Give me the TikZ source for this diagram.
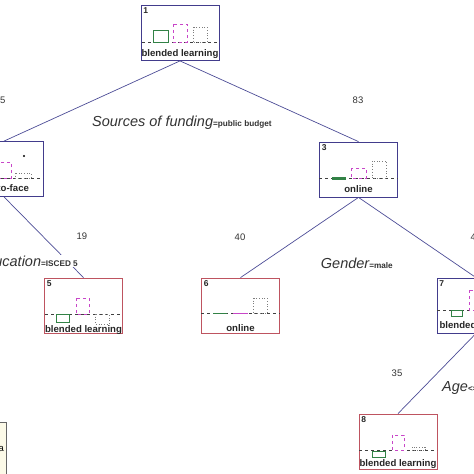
\documentclass[tikz,border=0pt]{standalone}
\usepackage{fontspec}
\setmainfont{Liberation Sans}
\usepackage{tikz}

\definecolor{treeblue}{RGB}{66,60,140}
\definecolor{treered}{RGB}{190,84,96}
\definecolor{edgeblue}{RGB}{76,76,150}
\definecolor{bargreen}{RGB}{50,130,70}
\definecolor{barpink}{RGB}{200,70,200}
\definecolor{bargray}{RGB}{125,125,125}
\definecolor{legendbg}{RGB}{252,250,232}
\newcommand{\splitval}[1]{{\fontsize{8.2}{9}\selectfont\bfseries\upshape #1}}

\begin{document}
\begin{tikzpicture}[x=1pt, y=-1pt,
  box/.style={draw=treeblue, line width=0.8pt, minimum width=78pt, minimum height=55pt, inner sep=0pt},
  redbox/.style={box, draw=treered},
  edge/.style={draw=edgeblue, line width=0.7pt},
  idnum/.style={anchor=north west, inner sep=2.5pt, font=\fontsize{8.5}{9}\selectfont\bfseries, text=black!85},
  cls/.style={anchor=base, inner sep=0pt, font=\fontsize{9.6}{10}\selectfont\bfseries, text=black!85},
  count/.style={font=\fontsize{9.5}{10}\selectfont, text=black!80},
  split/.style={inner sep=1pt, fill=white, font=\fontsize{14.5}{15}\selectfont\itshape, text=black!80},
  base/.style={draw=black!75, dashed, line width=0.6pt},
  gbar/.style={draw=bargreen, line width=0.7pt},
  pbar/.style={draw=barpink, dashed, line width=0.6pt},
  dbar/.style={draw=bargray, dotted, line width=0.7pt}]
\useasboundingbox (0,0) rectangle (474,474);

% tree nodes
\node[box] (n1) at (180,33) {};
\node[box] (n2) at (4,169) {};
\node[box] (n3) at (358.5,169.5) {};
\node[redbox] (n5) at (83.5,305.5) {};
\node[redbox] (n6) at (240.5,305.5) {};
\node[box] (n7) at (476,305.5) {};
\node[redbox] (n8) at (398,441.5) {};

% connectors
\draw[edge] (n1.south) -- (n2.north);
\draw[edge] (n1.south) -- (n3.north);
\draw[edge] (n2.south) -- (n5.north);
\draw[edge] (n3.south) -- (n6.north);
\draw[edge] (n3.south) -- (n7.north);
\draw[edge] (n7.south) -- (n8.north);

% node 1
\node[idnum] at (n1.north west) {1};
\draw[base] (142,42) -- (218,42);
\draw[gbar] (153,30) rectangle (168,42);
\draw[pbar] (173,24) rectangle (187,42);
\draw[dbar] (193,27) rectangle (207,42);
\node[cls] at (180,56) {blended learning};

% node 2
\draw[base] (-35,178) -- (43,178);
\fill[bargreen] (-24,176) rectangle (-10,179);
\draw[pbar] (-4,162) rectangle (11,178);
\draw[dbar] (15,173) rectangle (31,178);
\fill[black] (24,156) circle (1.2);
\node[cls] at (2,191) {face-to-face};

% node 3
\node[idnum] at (n3.north west) {3};
\draw[base] (319,178) -- (398,178);
\fill[bargreen] (332,176.5) rectangle (346,179.5);
\draw[pbar] (351,168) rectangle (366,178);
\draw[dbar] (372,161) rectangle (386,178);
\node[cls] at (358.5,192.5) {online};

% node 5
\node[idnum] at (n5.north west) {5};
\draw[base] (45,314) -- (122,314);
\draw[gbar] (56,314) rectangle (69,322);
\draw[pbar] (76,298) rectangle (89,314);
\draw[dbar] (95,314) rectangle (109,324);
\node[cls] at (83.5,332) {blended learning};

% node 6
\node[idnum] at (n6.north west) {6};
\draw[base] (201,313) -- (280,313);
\draw[draw=bargreen, line width=1pt] (213,313) -- (227,313);
\draw[draw=barpink, line width=1pt] (233,313) -- (248,313);
\draw[dbar] (253,298) rectangle (267,313);
\node[cls] at (240.5,331.5) {online};

% node 7
\node[idnum] at (n7.north west) {7};
\draw[base] (437,310) -- (515,310);
\draw[gbar] (451,310) rectangle (462,316);
\draw[pbar] (469,290) rectangle (481,310);
\node[cls] at (478,328.5) {blended learning};

% node 8
\node[idnum] at (n8.north west) {8};
\draw[base] (359,450) -- (437,450);
\draw[gbar] (372,451) rectangle (385,457);
\draw[pbar] (392,435) rectangle (404,450);
\draw[dbar] (412,447) rectangle (425,450);
\node[cls] at (398,466.5) {blended learning};

% counts and splits
\node[count, anchor=east] (c2) at (9,100) {45};
\node[count] (c3) at (358,100) {83};
\node[split, anchor=west] (s1) at (91,123) {Sources of funding\splitval{=public budget}};
\node[count] (c5) at (82,236) {19};
\node[split, anchor=east] (s2) at (79,261) {Education\splitval{=ISCED 5}};
\node[count] (c6) at (240,237) {40};
\node[count] (c7) at (476,237) {43};
\node[split, anchor=east] (s3) at (394,263) {Gender\splitval{=male}};
\node[count] (c8) at (397,373) {35};
\node[split, anchor=west] (s4) at (441,388) {Age\splitval{<=}};

% legend box
\node[draw=black!60, fill=legendbg, line width=0.7pt, anchor=north east, minimum width=60pt, minimum height=52pt] (key) at (7,422) {};
\node[anchor=east, inner sep=0pt, font=\fontsize{9.5}{10}\selectfont] at (4,449) {a};
\end{tikzpicture}
\end{document}
